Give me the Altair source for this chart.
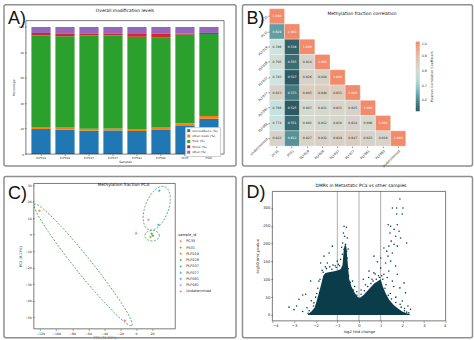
import altair as alt
import numpy as np
import pandas as pd

FONT = "DejaVu Sans"
LETTER_FONT = "Liberation Sans Narrow, Liberation Sans, Arial, sans-serif"

# ---------------- Panel A data ----------------
a_samples = ["PLF019", "PLF028", "PLF037", "PLF077", "PLF081", "PLF082", "PC35", "PS31"]
a_cats = ["Unmodified C (%)", "other modC (%)", "5mC (%)", "5hmC (%)", "other (%)"]
a_colors = ["#1f77b4", "#ff7f0e", "#2ca02c", "#d62728", "#9467bd"]
a_unmod = [19.7, 19.2, 18.4, 18.6, 18.1, 19.4, 22.6, 27.8]
a_othermod = [1.6, 1.8, 1.6, 1.6, 1.6, 1.6, 1.4, 2.2]
a_5mc = [71.9, 71.7, 73.2, 73.0, 72.7, 70.9, 70.0, 64.5]
a_5hmc = [2.1, 2.3, 1.8, 1.8, 2.6, 3.1, 0.8, 0.8]
a_other = [4.7, 5.0, 5.0, 5.0, 5.0, 5.0, 5.2, 4.7]
a_yticks = [0, 20, 40, 60, 80, 100]

# ---------------- Panel B data ----------------
b_labels = ["PC35", "PS31", "PLF019", "PLF028", "PLF037", "PLF077", "PLF081", "PLF082", "Undetermined"]
b_corr = [
    [1.000],
    [0.629, 1.000],
    [0.786, 0.538, 1.000],
    [0.795, 0.555, 0.824, 1.000],
    [0.783, 0.527, 0.826, 0.828, 1.000],
    [0.823, 0.573, 0.845, 0.849, 0.851, 1.000],
    [0.766, 0.525, 0.807, 0.811, 0.815, 0.825, 1.000],
    [0.774, 0.551, 0.802, 0.812, 0.810, 0.824, 0.808, 1.000],
    [0.822, 0.612, 0.827, 0.832, 0.829, 0.847, 0.823, 0.818, 1.000],
]
b_scale_domain = [0.525, 0.6, 0.7, 0.78, 0.82, 0.9, 1.0]
b_scale_range = ["#2c5a62", "#4f8a90", "#9dcfcf", "#cfe5e2", "#d7d3cb", "#e6bfae", "#f28b6b"]
b_cbar_ticks = [0.6, 0.7, 0.8, 0.9, 1.0]

# ---------------- Panel C data ----------------
c_ids = ["PC35", "PS31", "PLF019", "PLF028", "PLF037", "PLF077", "PLF081", "PLF082", "Undetermined"]
c_colors = ["#f77189", "#d58c32", "#a4a031", "#50b131", "#34ae91", "#37abb5", "#3ba3ec", "#bb83f4", "#f564d4"]
c_pt_id = ["PS31", "PC35", "Undetermined", "PLF019", "PLF028", "PLF037", "PLF082", "PLF077", "PLF081"]
c_pt_x = [-121.0, -14.0, 0.0, 18.0, 21.0, 19.5, 15.4, 28.0, 29.0]
c_pt_y = [14.4, -52.0, 0.8, -1.5, -0.5, 0.5, 9.0, 6.0, 26.6]
c_ell_cx = [-66.2, 20.0, 25.8]
c_ell_cy = [-18.3, -0.6, 16.0]
c_ell_ax = [60.8, 9.0, 10.0]
c_ell_ay = [-36.7, 0.0, 13.0]
c_ell_bx = [8.1, 0.0, 13.7]
c_ell_by = [3.1, 3.2, -2.4]
c_xticks = [-120, -100, -80, -60, -40, -20, 0, 20]
c_yticks = [-50, -40, -30, -20, -10, 0, 10, 20, 30]

# ---------------- Panel D data ----------------
d_env_x = [-2.35, -2.2, -2.05, -1.95, -1.85, -1.75, -1.65, -1.55, -1.4, -1.2, -1.0, -0.85, -0.76,
           -0.7, -0.64, -0.58, -0.52, -0.45, -0.35, -0.2, -0.05, 0.05, 0.2, 0.35, 0.5, 0.7, 0.9,
           1.0, 1.1, 1.25, 1.4, 1.6, 1.8, 2.0, 2.2, 2.35]
d_env_top = [3, 10, 20, 40, 62, 85, 110, 118, 120, 122, 125, 128, 140, 185, 200, 190, 145, 100,
             80, 62, 50, 48, 55, 65, 75, 88, 96, 100, 80, 58, 42, 28, 18, 10, 5, 2]
d_pts_x = [1.89, 1.54, 1.74, 2.03, 1.74, 2.0, 1.35, 1.46, 1.77, 1.62, 1.85, 1.43, 1.69, 1.92, 2.2,
           1.49, 1.62, 1.38, 1.77, 1.15, 1.28, 1.54, 0.69, 1.0, 1.34, 0.85, 1.23, 1.46, 1.69, 0.46,
           0.69, 1.0, 1.38, 1.77, 2.08, 2.15, 2.0, 2.26, 2.38, 1.15, 1.54, 1.89, 1.3, 1.6, 1.25,
           1.45, 1.7, 1.9, 0.9, 0.6, 1.1, 2.1, 2.2,
           -3.23, -2.77, -2.46, -2.6, -2.23, -2.08, -2.88, -1.23, -1.38, -1.62, -1.46, -1.77, -1.0,
           -0.85, -0.62, -2.4, -2.2, -2.0, -1.9, -1.85, -1.7, -1.55, -1.2, -1.1, -0.95, -3.0, -2.6,
           -0.69, -0.58, -0.72, -0.66, -0.54, -0.75, -0.62, -0.69, -0.57, -0.77, -0.5, -0.8,
           -0.3, -0.2, 0.1, 0.3, 0.2, -0.1, 0.45, 0.75,
           -1.5, -1.35, -1.25, -1.05, -0.9, -1.65, -1.8, -1.95, -2.1, -2.3, -2.35, 2.3, 2.1, 1.95,
           1.7, 1.5, 1.35, 1.2, 1.05, 0.95, 0.8, 0.65, 0.55, 0.4, 0.25, 0.1, -0.1, -0.25, -0.4,
           -0.48, -0.5, -0.55]
d_pts_y = [325, 300, 300, 300, 283, 283, 253, 249, 253, 240, 235, 230, 221, 216, 202,
           207, 198, 193, 193, 188, 179, 174, 165, 160, 165, 149, 146, 151, 137, 123,
           118, 132, 123, 114, 90, 62, 39, 25, 16, 114, 95, 76, 105, 80, 85,
           60, 50, 30, 110, 100, 100, 12, 8,
           22, 44, 58, 56, 95, 34, 25, 193, 174, 165, 146, 146, 151,
           156, 162, 20, 40, 50, 75, 95, 125, 135, 140, 138, 142, 15, 10,
           249, 246, 230, 221, 216, 202, 198, 184, 179, 170, 185, 190,
           95, 80, 70, 85, 100, 65, 105, 115,
           130, 135, 128, 133, 138, 120, 100, 60, 25, 12, 5, 6, 18, 22,
           35, 45, 55, 75, 110, 105, 100, 95, 88, 80, 68, 58, 55, 70, 92,
           110, 130, 160]
d_vlines = [-1, 0, 1]
d_xticks = [-4, -3, -2, -1, 0, 1, 2, 3, 4]
d_yticks = [0, 50, 100, 150, 200, 250, 300]
D_COLOR = "#0b3c49"

ONE = pd.DataFrame({"k": [0]})
STAR = "M0,-1L0.24,-0.33L0.95,-0.31L0.38,0.12L0.59,0.81L0,0.4L-0.59,0.81L-0.38,0.12L-0.95,-0.31L-0.24,-0.33Z"


def decorations(FW, FH, box, letter, base_y, title, tx, ty, tsize, spines=True):
    """Frame of the panel (whole view), letter, title and optional plot box."""
    base = alt.Chart(ONE)
    frame = base.mark_rect(fillOpacity=0, stroke="#8f8f8f", strokeWidth=1.5, cornerRadius=2).encode(
        x=alt.value(0), x2=alt.value(FW), y=alt.value(0), y2=alt.value(FH))
    letter_mark = base.mark_text(align="left", baseline="alphabetic", fontSize=18,
                                 font=LETTER_FONT, color="#111111").encode(
        x=alt.value(4), y=alt.value(base_y), text=alt.value(letter))
    title_mark = base.mark_text(align="center", baseline="middle", fontSize=tsize,
                                font=FONT, color="#111111").encode(
        x=alt.value(tx), y=alt.value(ty), text=alt.value(title))
    sp = None
    if spines:
        x0, x1, y0, y1 = box
        sp = base.mark_rect(fillOpacity=0, stroke="#222222", strokeWidth=0.6).encode(
            x=alt.value(x0), x2=alt.value(x1), y=alt.value(y0), y2=alt.value(y1))
    return frame, letter_mark, title_mark, sp


# ================= Panel A =================
AW, AH = 233, 162
A_X0, A_X1, A_Y0, A_Y1 = 22, 221, 16, 150
rows = []
for ci, (cat, vals) in enumerate(zip(a_cats, [a_unmod, a_othermod, a_5mc, a_5hmc, a_other])):
    for s, v in zip(a_samples, vals):
        rows.append({"sample": s, "cat": cat, "ord": ci, "value": v})
df_a = pd.DataFrame(rows)

bars = alt.Chart(df_a).mark_bar().encode(
    x=alt.X("sample:N", sort=a_samples,
            scale=alt.Scale(range=[A_X0, A_X1], paddingInner=0.2, paddingOuter=0.23),
            axis=alt.Axis(title="Samples", labelAngle=0, labelFontSize=2.7, titleFontSize=3,
                          tickSize=1.5, labelPadding=1, titlePadding=1.5, offset=-(AH - A_Y1))),
    y=alt.Y("value:Q", stack="zero", scale=alt.Scale(domain=[0, 105], nice=False, range=[A_Y1, A_Y0]),
            axis=alt.Axis(title="Percentage", values=a_yticks, labelFontSize=2.7, titleFontSize=3,
                          tickSize=1.5, labelPadding=1, titlePadding=3, offset=-A_X0)),
    color=alt.Color("cat:N", scale=alt.Scale(domain=a_cats, range=a_colors),
                    legend=alt.Legend(title=None, orient="none", legendX=182, legendY=123,
                                      labelFontSize=2.9, symbolSize=9, symbolType="square",
                                      symbolStrokeWidth=0, fillColor="white", strokeColor="#cccccc",
                                      padding=2, rowPadding=1.4, symbolOffset=0, labelOffset=2)),
    order=alt.Order("ord:Q", sort="ascending"),
)
fa, la, ta, sa = decorations(AW, AH, (A_X0, A_X1, A_Y0, A_Y1), "A)", 19,
                             "Overall modification levels", (A_X0 + A_X1) / 2, 6, 4.4)
panel_a = alt.layer(fa, bars, sa, la, ta).properties(width=AW, height=AH)

# ================= Panel B =================
BW, BH = 231, 162
B_X0, B_X1, B_Y0, B_Y1 = 27, 164, 4, 142
rows = []
for i, r in enumerate(b_labels):
    for j, v in enumerate(b_corr[i]):
        rows.append({"col": b_labels[j], "row": r, "v": v})
df_b = pd.DataFrame(rows)

bx = alt.X("col:N", sort=b_labels,
           scale=alt.Scale(domain=b_labels, range=[B_X0, B_X1], paddingInner=0, paddingOuter=0),
           axis=alt.Axis(title=None, labelAngle=315, labelAlign="right", labelBaseline="top",
                         labelFontSize=3.3, tickSize=1.5, labelPadding=1, offset=-(BH - B_Y1)))
by = alt.Y("row:N", sort=b_labels,
           scale=alt.Scale(domain=b_labels, range=[B_Y0, B_Y1], paddingInner=0, paddingOuter=0),
           axis=alt.Axis(title=None, labelAngle=315, labelAlign="right", labelBaseline="middle",
                         labelFontSize=3.3, tickSize=1.5, labelPadding=1, offset=-B_X0))
cells = alt.Chart(df_b).mark_rect(stroke="white", strokeWidth=0.3).encode(
    x=bx, y=by,
    color=alt.Color("v:Q", scale=alt.Scale(domain=b_scale_domain, range=b_scale_range),
                    legend=alt.Legend(title=None, orient="none", legendX=174, legendY=37,
                                      direction="vertical", gradientLength=70, gradientThickness=4,
                                      gradientStrokeWidth=0, values=b_cbar_ticks, format=".1f",
                                      labelFontSize=3.3, labelOffset=2)),
)
cell_text = alt.Chart(df_b).mark_text(fontSize=3.1).encode(
    x=bx, y=by, text=alt.Text("v:Q", format=".3f"),
    color=alt.condition("datum.v < 0.66 || datum.v > 0.95", alt.value("white"), alt.value("#2b2b2b")),
)
cbar_label = alt.Chart(ONE).mark_text(angle=270, fontSize=3.3, align="center", baseline="middle",
                                      color="#222222").encode(
    x=alt.value(190), y=alt.value(72), text=alt.value("Pearson Correlation Coefficient"))
fb, lb, tb, _ = decorations(BW, BH, None, "B)", 19,
                            "Methylation fraction correlation", 120, 9, 4.4, spines=False)
panel_b = alt.layer(fb, cells, cell_text, cbar_label, lb, tb).properties(width=BW, height=BH)

# ================= Panel C =================
CW, CH = 233, 162
C_X0, C_X1, C_Y0, C_Y1 = 30, 172, 7, 153
df_c = pd.DataFrame({"x": c_pt_x, "y": c_pt_y, "sid": c_pt_id})
erows = []
ts = np.linspace(0, 2 * np.pi, 91)
for e in range(len(c_ell_cx)):
    for k, t in enumerate(ts):
        erows.append({"eid": e, "t": k,
                      "x": c_ell_cx[e] + c_ell_ax[e] * np.cos(t) + c_ell_bx[e] * np.sin(t),
                      "y": c_ell_cy[e] + c_ell_ay[e] * np.cos(t) + c_ell_by[e] * np.sin(t)})
df_e = pd.DataFrame(erows)

cx = alt.X("x:Q", scale=alt.Scale(domain=[-128, 49], nice=False, zero=False, range=[C_X0, C_X1]),
           axis=alt.Axis(title="PC1 (51.01%)", values=c_xticks, labelFontSize=3.2, titleFontSize=3.4,
                         tickSize=1.5, labelPadding=1, titlePadding=1, offset=-(CH - C_Y1)))
cy = alt.Y("y:Q", scale=alt.Scale(domain=[-57, 31], nice=False, zero=False, range=[C_Y1, C_Y0]),
           axis=alt.Axis(title="PC2 (9.13%)", values=c_yticks, labelFontSize=3.2, titleFontSize=3.4,
                         tickSize=1.5, labelPadding=1, titlePadding=2, offset=-C_X0))
ell = alt.Chart(df_e).mark_line(color="#2e9a3e", strokeWidth=0.8, strokeDash=[2, 1.5]).encode(
    x=cx, y=cy, detail="eid:N", order=alt.Order("t:Q"))
pts = alt.Chart(df_c).mark_point(shape=STAR, filled=True, size=12, opacity=1).encode(
    x=cx, y=cy,
    color=alt.Color("sid:N", scale=alt.Scale(domain=c_ids, range=c_colors),
                    legend=alt.Legend(title="sample_id", orient="none", legendX=175, legendY=57,
                                      titleFontSize=3.6, titleFontWeight="normal", titlePadding=2,
                                      labelFontSize=3.5, symbolType=STAR, symbolSize=10,
                                      rowPadding=2.3, labelOffset=3)),
)
fc, lc, tc, sc = decorations(CW, CH, (C_X0, C_X1, C_Y0, C_Y1), "C)", 23,
                             "Methylation fraction PCA", 120, 9, 4.2)
panel_c = alt.layer(fc, ell, pts, sc, lc, tc).properties(width=CW, height=CH)

# ================= Panel D =================
DW, DH = 231, 162
D_X0, D_X1, D_Y0, D_Y1 = 30, 204, 15, 145
df_env = pd.DataFrame({"x": d_env_x, "y": d_env_top})
df_pts = pd.DataFrame({"x": d_pts_x, "y": d_pts_y})
df_vl = pd.DataFrame({"x": d_vlines})
dx = alt.X("x:Q", scale=alt.Scale(domain=[-4, 4], nice=False, zero=False, range=[D_X0, D_X1]),
           axis=alt.Axis(title="log2 fold change", values=d_xticks, labelFontSize=3.8, titleFontSize=3.8,
                         tickSize=1.5, labelPadding=1, titlePadding=2, offset=-(DH - D_Y1)))
dy = alt.Y("y:Q", scale=alt.Scale(domain=[-16.5, 346.5], nice=False, zero=False, range=[D_Y1, D_Y0]),
           axis=alt.Axis(title="-log10 dmr_pvalue", values=d_yticks, labelFontSize=3.8, titleFontSize=3.8,
                         tickSize=1.5, labelPadding=1, titlePadding=3, offset=-D_X0))
vlines = alt.Chart(df_vl).mark_rule(color="#8a8a8a", strokeWidth=0.7).encode(
    x=dx, y=alt.value(D_Y0), y2=alt.value(D_Y1))
area = alt.Chart(df_env).mark_area(color=D_COLOR, opacity=1).encode(x=dx, y=dy)
scat = alt.Chart(df_pts).mark_circle(color=D_COLOR, size=2.5, opacity=1).encode(x=dx, y=dy)
fd, ld, td, sd = decorations(DW, DH, (D_X0, D_X1, D_Y0, D_Y1), "D)", 22,
                             "DMRs in Metastatic PCa vs other samples", 119, 10, 4.4)
panel_d = alt.layer(fd, vlines, area, scat, sd, ld, td).properties(width=DW, height=DH)

# ================= Assemble =================
top = alt.hconcat(panel_a, panel_b, spacing=2.5).resolve_scale(color="independent")
bottom = alt.hconcat(panel_c, panel_d, spacing=2.5).resolve_scale(color="independent")
chart = alt.vconcat(top, bottom, spacing=5.5).resolve_scale(color="independent")
chart = chart.properties(
    padding={"left": 2, "top": 2, "right": 0, "bottom": 0}, background="white"
).configure(font=FONT).configure_view(stroke="transparent").configure_axis(
    labelColor="#222222", tickColor="#222222", titleColor="#222222", titleFontWeight="normal",
    grid=False, domain=False, tickWidth=0.5, labelFont=FONT, titleFont=FONT
).configure_legend(labelColor="#222222", titleColor="#222222", labelFont=FONT, titleFont=FONT)

chart.save("out.html", embed_options={"renderer": "svg", "actions": False})
